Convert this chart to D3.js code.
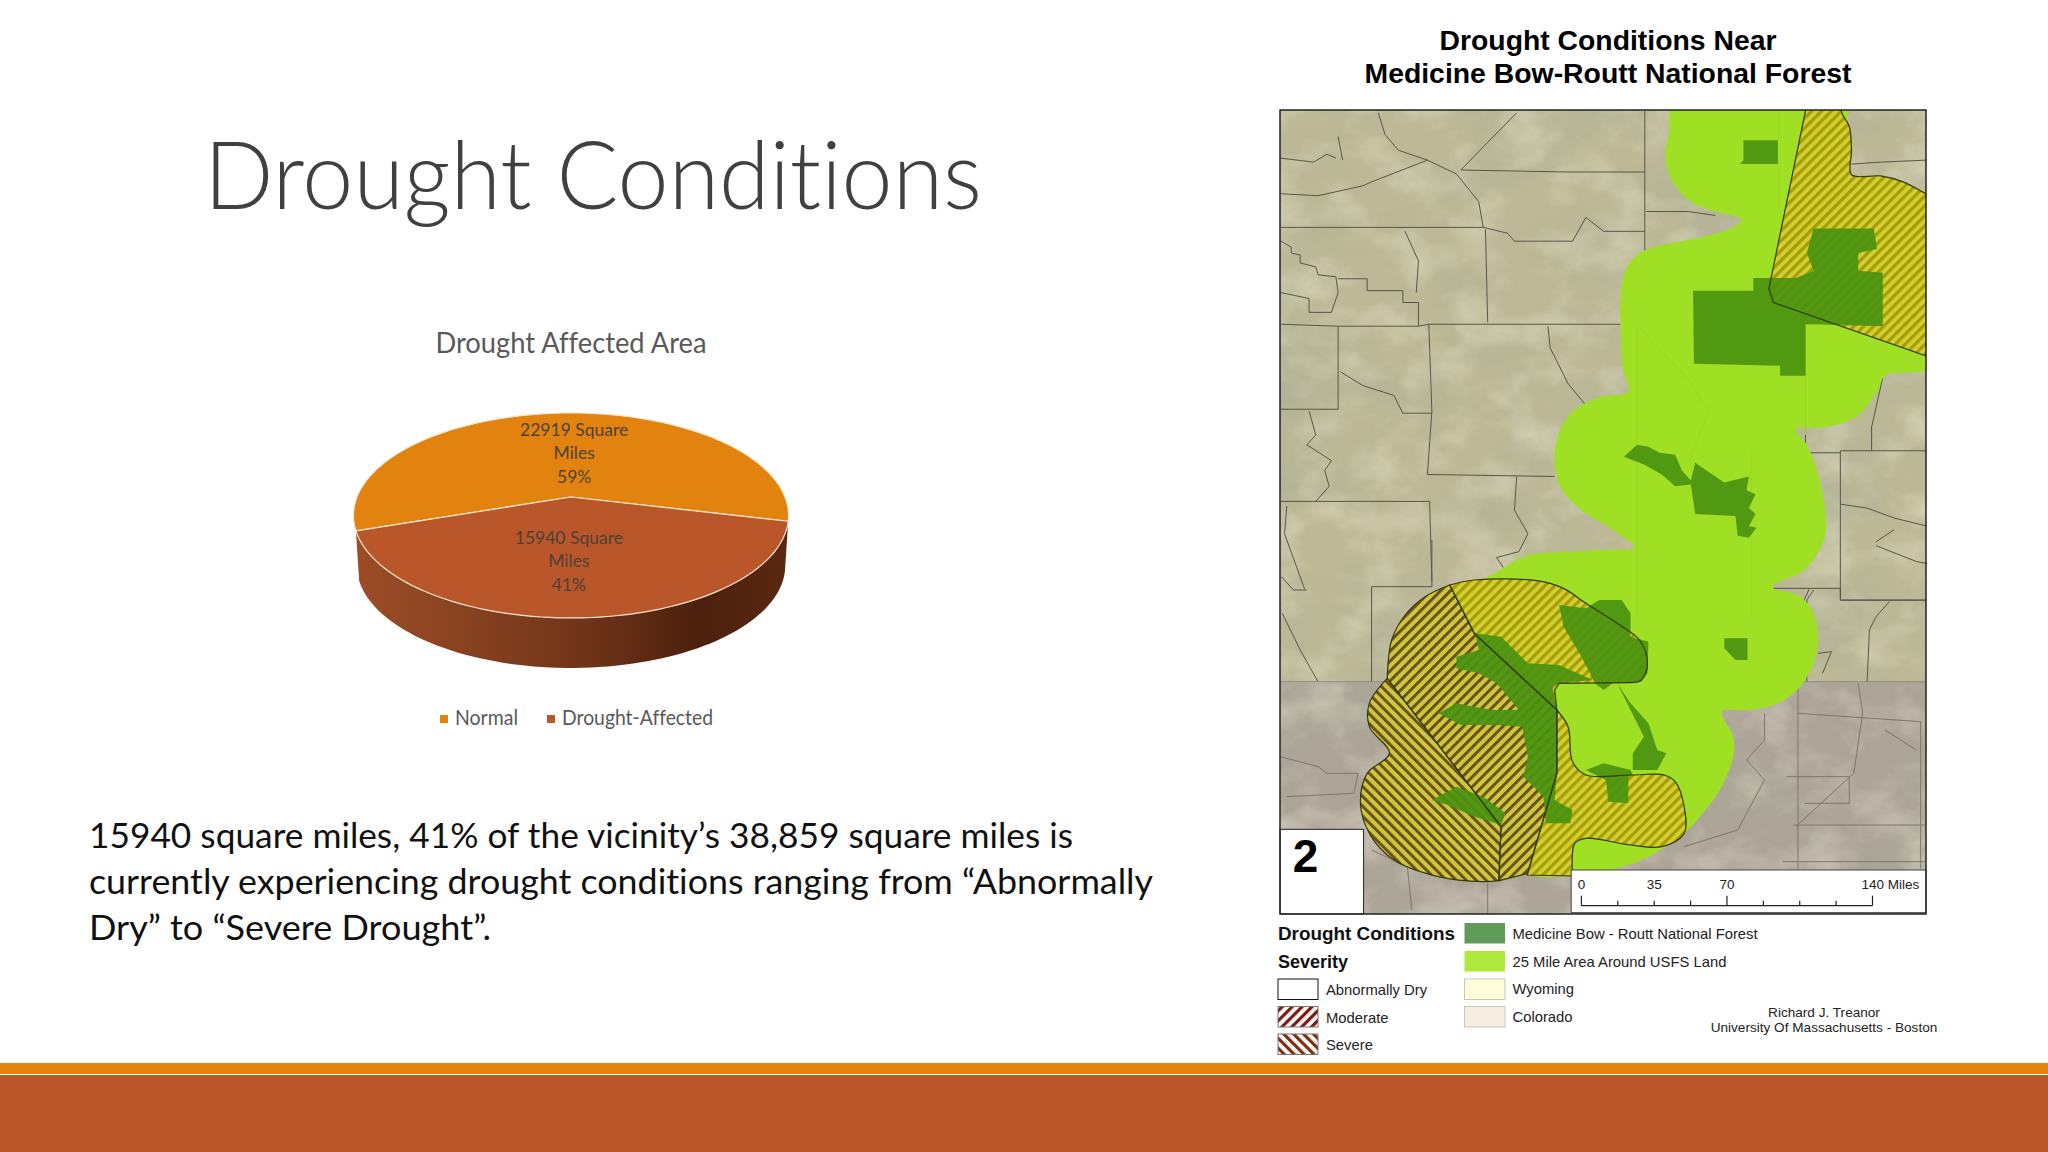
<!DOCTYPE html>
<html>
<head>
<meta charset="utf-8">
<title>Drought Conditions</title>
<script src="https://cdnjs.cloudflare.com/ajax/libs/d3/7.8.5/d3.min.js"></script>
<style>
html, body { margin: 0; padding: 0; background: #fff; }
svg { display: block; }
.calibri { font-family: Lato, "Noto Sans", sans-serif; font-variant-ligatures: none; }
.arial { font-family: "Liberation Sans", Arial, sans-serif; }
</style>
</head>
<body>
<svg id="slide" width="2048" height="1152"></svg>
<script>
// pie values
var pieCategories = ["Normal", "Drought-Affected"];
var pieValues = [22919, 15940];
var pieLabels = ["22919 Square|Miles|59%", "15940 Square|Miles|41%"];
var pieColors = ["#e2830f", "#b9562a"];

var bodyLines = [
	"15940 square miles, 41% of the vicinity\u2019s 38,859 square miles is",
	"currently experiencing drought conditions ranging from \u201cAbnormally",
	"Dry\u201d to \u201cSevere Drought\u201d."
];

// map shapes. north* = upper half, south* = lower half, they get different y scales
var bufferNorthWest = [[935,240],[915,340],[908,400],[925,460],[965,510],[1020,535],[1078,555],[1060,575],[990,600],[900,620],[850,640],[820,680],[808,740],[808,830],[812,930],[825,990],[760,1005],[700,1040],[668,1100],[660,1165],[672,1230],[720,1290],[790,1340],[840,1385],[800,1390],[700,1395],[600,1405],[540,1440]];
var bufferSouth = [[430,200],[400,500],[500,800],[600,1000],[700,1005],[800,985],[870,950],[950,880],[985,830],[1030,750],[1060,650],[1060,590],[1035,515],[1100,510],[1160,490],[1210,440],[1240,370],[1250,300],[1240,220],[1210,170],[1150,145]];
var bufferNorthEast = [[1150,1480],[1220,1440],[1265,1360],[1265,1280],[1245,1180],[1225,1125],[1200,1085],[1270,1080],[1340,1050],[1385,985],[1400,950],[1500,930],[1540,800],[1320,440],[1300,240]];

var forestNorth = [
	[[1083,355],[1160,355],[1160,415],[1075,415],[1083,405]],
	[[970,735],[1105,735],[1105,703],[1200,703],[1240,685],[1225,640],[1240,578],[1375,578],[1382,630],[1340,640],[1340,685],[1395,690],[1395,825],[1240,820],[1222,820],[1222,950],[1165,950],[1165,925],[972,920]],
	[[815,1155],[845,1125],[870,1130],[895,1145],[930,1150],[945,1190],[965,1215],[975,1170],[1000,1190],[1040,1220],[1095,1205],[1090,1240],[1110,1250],[1095,1285],[1110,1300],[1095,1330],[1112,1335],[1095,1360],[1070,1355],[1065,1305],[975,1300],[965,1225],[930,1230],[900,1200],[860,1175]]
];
var forestSouth = [
	[[1040,295],[1092,295],[1092,360],[1065,360],[1040,325]],
	[[670,195],[730,205],[760,180],[810,180],[830,220],[830,290],[870,305],[868,400],[850,425],[790,430],[770,450],[750,430],[745,415],[720,350],[680,260]],
	[[482,280],[540,290],[600,370],[670,375],[745,420],[670,430],[655,440],[665,510],[665,700],[660,780],[700,810],[695,850],[640,850],[635,770],[590,710],[600,650],[580,510],[530,430],[490,400],[440,385],[440,350],[490,330]],
	[[400,520],[440,490],[520,510],[580,510],[590,560],[530,555],[450,555]],
	[[385,780],[440,740],[500,770],[550,820],[540,855],[480,830],[420,795]],
	[[800,430],[830,490],[870,550],[890,630],[910,640],[890,690],[835,690],[835,640],[860,590]],
	[[730,690],[770,670],[830,690],[835,705],[825,710],[825,790],[780,785],[775,720]]
];

// drought areas: curved outer edge + straight inner edge
var dryNorthOuter = [[1300,240],[1303,285],[1320,320],[1325,380],[1325,442],[1390,445],[1440,460],[1492,490],[1540,520]];
var dryNorthInner = [[1540,919],[1150,765],[1140,730],[1222,280],[1222,240]];
var dryTopOuter = [[425,135],[480,120],[620,122],[680,145],[730,190],[800,250],[850,300],[868,370],[855,420],[830,428]];
var dryTopInner = [[670,430],[660,450],[665,510],[480,280]];
var dryBottomOuter = [[665,510],[690,560],[700,665],[730,705],[830,705],[905,705],[930,725],[950,800],[950,880],[900,920],[830,915],[730,895],[705,910],[700,1008]];
var dryBottomInner = [[598,1005],[630,860],[665,700]];
var moderateOuter = [[425,135],[370,170],[325,225],[295,300],[285,415]];
var moderateInner = [[540,860],[535,1022],[600,1000],[630,860],[665,700],[665,510],[480,280]];
var severeOuter = [[285,415],[245,490],[245,560],[290,640],[240,700],[225,790],[245,880],[300,960],[400,1010],[500,1025],[535,1022]];
var severeInner = [[540,860]];

var linesNorth = [
	[[265,285],[280,340],[310,380],[375,405],[440,440],[490,510],[500,575]],
	[[575,285],[545,320],[510,360],[450,430],[690,435],[862,435]],
	[[862,280],[862,820]],
	[[47,575],[500,575],[555,590],[570,610],[700,610],[730,550],[770,585],[862,585]],
	[[505,580],[510,815]],
	[[47,400],[120,410],[150,390],[170,400]],
	[[175,345],[185,405]],
	[[47,490],[130,495],[230,470],[250,460],[375,405]],
	[[325,585],[355,660],[350,740]],
	[[175,705],[240,705],[240,735],[320,735],[320,765],[355,765],[355,825]],
	[[47,610],[70,625],[70,640],[90,645],[90,665],[125,675],[130,695],[170,700],[175,740],[160,790],[110,790],[110,755],[47,740]],
	[[47,820],[175,825],[175,1035],[47,1035]],
	[[175,825],[355,825],[378,820],[1000,820]],
	[[378,820],[385,1040],[375,1200],[660,1205]],
	[[645,825],[650,880],[690,970],[730,1025]],
	[[180,940],[230,975],[300,1000],[320,1045],[385,1045]],
	[[110,1040],[125,1100],[105,1125],[160,1165],[145,1190],[155,1230],[125,1268]],
	[[47,1268],[380,1268],[385,1470]],
	[[575,1205],[570,1290],[600,1350],[580,1395],[530,1410],[545,1435]],
	[[865,535],[960,535],[1020,545]],
	[[1300,1140],[1492,1140]],
	[[1300,1140],[1300,1518],[1492,1518]],
	[[1110,1145],[1300,1145]],
	[[1222,1080],[1222,1140]],
	[[1395,955],[1370,1080],[1370,1140]],
	[[1325,415],[1390,410],[1492,405]],
	[[1300,1275],[1360,1285],[1420,1310],[1492,1330]],
	[[1380,1370],[1420,1340]],
	[[1380,1380],[1470,1420],[1492,1425]],
	[[60,1280],[55,1350],[100,1490]],
	[[1230,1490],[1210,1540]]
];
var linesSouth = [
	[[250,140],[385,140],[385,0]],
	[[250,140],[250,425]],
	[[48,110],[75,150],[105,150]],
	[[50,220],[90,330],[130,425]],
	[[1140,145],[1300,145],[1300,180],[1490,180]],
	[[1410,185],[1380,230],[1365,270],[1360,425]],
	[[1240,150],[1225,180],[1225,425]],
	[[1250,340],[1280,335],[1260,400]]
];
var linesColorado = [
	[[1130,520],[1130,600],[1090,660],[1130,720],[1070,870],[950,920]],
	[[1205,430],[1205,985]],
	[[1205,520],[1480,545],[1480,985]],
	[[1340,430],[1350,520],[1330,700],[1200,860]],
	[[1400,570],[1470,630]],
	[[1180,710],[1320,710],[1320,790],[1220,790]],
	[[1195,855],[1490,855]],
	[[1170,965],[1490,965]],
	[[250,930],[330,980],[340,1110]],
	[[510,1030],[510,1120]],
	[[150,700],[220,700],[210,760],[60,770]],
	[[45,650],[130,680],[150,700]]
];
// faint county lines showing through the green
var linesThrough = [[[845,820],[845,1560]], [[1162,280],[1162,540]], [[1222,820],[1222,1100]], [[1100,1145],[1100,1560]], [[850,830],[960,960],[1005,1040],[960,1170]]];

var scaleMiles = [0, 35, 70, 140];
var scaleTicks = [0, 17.5, 35, 52.5, 70, 87.5, 105, 122.5, 140];

var legendLeft = ["Abnormally Dry", "Moderate", "Severe"];
var legendRight = ["Medicine Bow - Routt National Forest", "25 Mile Area Around USFS Land", "Wyoming", "Colorado"];
var legendRightColors = ["#5f9c59", "#aee83c", "#fdfed8", "#f6ece2"];

var svg = d3.select("#slide");
var defs = svg.append("defs");

// slide background bands
svg.append("rect").attr("x", 0).attr("y", 1063).attr("width", 2048).attr("height", 11).attr("fill", "#e2830f");
svg.append("rect").attr("x", 0).attr("y", 1075).attr("width", 2048).attr("height", 77).attr("fill", "#b9562a");

svg.append("text").attr("class", "calibri")
	.attr("x", 204).attr("y", 209)
	.attr("font-size", 95).attr("font-weight", 300).attr("fill", "#404040")
	.attr("textLength", 778).attr("lengthAdjust", "spacingAndGlyphs")
	.text("Drought Conditions");

var bodyBaselines = [848, 894, 940];
var bodyWidths = [984, 1064, 402];
svg.selectAll("text.body").data(bodyLines).enter().append("text")
	.attr("class", "body calibri")
	.attr("x", 89).attr("y", (d, i) => bodyBaselines[i])
	.attr("font-size", 35).attr("fill", "#111")
	.attr("textLength", (d, i) => bodyWidths[i]).attr("lengthAdjust", "spacingAndGlyphs")
	.text(d => d);

// ---- 3D pie ----
var PIE_CX = 571, PIE_CY = 497, PIE_A = 214, PIE_B = 99.2, PIE_K = -0.18, PIE_DEPTH = 50;

// perspective of the pie's disc: angle from the top, clockwise, radius 0..1
function project(theta, r, drop, shrink) {
	var u = -Math.cos(theta) * r, v = Math.sin(theta) * r, w = 1 + PIE_K * u;
	return [PIE_CX + PIE_A * (shrink || 1) * v / w, PIE_CY + PIE_B * u / w + (drop || 0)];
}

var firstAngle = 251.2 * Math.PI / 180;
var slices = d3.pie().sort(null).startAngle(firstAngle).endAngle(firstAngle + 2 * Math.PI)(pieValues);
var line = d3.line();

function arcPoints(s, drop, shrink) {
	return d3.range(0, 81).map(i => project(s.startAngle + (s.endAngle - s.startAngle) * i / 80, 1, drop, shrink));
}

var sideGrad = defs.append("linearGradient").attr("id", "pieSide").attr("gradientUnits", "userSpaceOnUse")
	.attr("x1", PIE_CX - PIE_A).attr("x2", PIE_CX + PIE_A).attr("y1", 0).attr("y2", 0);
[[0, "#9c4d26"], [0.3, "#84401f"], [0.55, "#6e3318"], [0.8, "#4b200d"], [1, "#5a2810"]].forEach(d => {
	sideGrad.append("stop").attr("offset", d[0]).attr("stop-color", d[1]);
});

var pieGroup = svg.append("g");
var front = slices[1];
pieGroup.append("path")
	.attr("d", line(arcPoints(front, 0, 1).concat(arcPoints(front, PIE_DEPTH, 0.985).reverse())) + "Z")
	.attr("fill", "url(#pieSide)");

pieGroup.selectAll("path.slice").data(slices).enter().append("path")
	.attr("class", "slice")
	.attr("d", s => line([project(0, 0)].concat(arcPoints(s, 0, 1))) + "Z")
	.attr("fill", (s, i) => pieColors[i])
	.attr("stroke", "#f6e6cf").attr("stroke-width", 1.2);

var labelRadius = [0.42, 0.62], labelShift = [7, -9];
slices.forEach((s, i) => {
	var p = project((s.startAngle + s.endAngle) / 2, labelRadius[i]);
	pieLabels[i].split("|").forEach((t, j) => {
		pieGroup.append("text").attr("class", "calibri")
			.attr("x", p[0] + labelShift[i]).attr("y", p[1] + (j - 1) * 23.5 + 1)
			.attr("text-anchor", "middle").attr("font-size", 17.5).attr("fill", "#4d4238")
			.text(t);
	});
});

svg.append("text").attr("class", "calibri")
	.attr("x", 571).attr("y", 353).attr("text-anchor", "middle")
	.attr("font-size", 28).attr("fill", "#595959")
	.attr("textLength", 271).attr("lengthAdjust", "spacingAndGlyphs")
	.text("Drought Affected Area");

var pieLegendSquare = [440, 547], pieLegendText = [455, 562], pieLegendWidth = [63, 151];
pieCategories.forEach((c, i) => {
	svg.append("rect").attr("x", pieLegendSquare[i]).attr("y", 715).attr("width", 8).attr("height", 8).attr("fill", pieColors[i]);
	svg.append("text").attr("class", "calibri")
		.attr("x", pieLegendText[i]).attr("y", 725)
		.attr("font-size", 21).attr("fill", "#595959")
		.attr("textLength", pieLegendWidth[i]).attr("lengthAdjust", "spacingAndGlyphs")
		.text(c);
});

// ---- map ----
var xMap = d3.scaleLinear().domain([0, 1568]).range([1260, 1960]);
var yNorth = d3.scaleLinear().domain([0, 1568]).range([0, 620]);
var ySouth = d3.scaleLinear().domain([0, 1200]).range([540, 940]);
var toNorth = p => [xMap(p[0]), yNorth(p[1])];
var toSouth = p => [xMap(p[0]), ySouth(p[1])];

var MAP_L = 1280, MAP_T = 110, MAP_R = 1926, MAP_B = 914, STATE_Y = ySouth(425);

defs.append("clipPath").attr("id", "mapClip").append("rect")
	.attr("x", MAP_L).attr("y", MAP_T).attr("width", MAP_R - MAP_L).attr("height", MAP_B - MAP_T);

// terrain texture, colour only
function terrainFilter(id, freq, seed, matrix) {
	var f = defs.append("filter").attr("id", id)
		.attr("filterUnits", "userSpaceOnUse")
		.attr("x", MAP_L).attr("y", MAP_T).attr("width", MAP_R - MAP_L).attr("height", MAP_B - MAP_T);
	f.append("feTurbulence").attr("type", "fractalNoise").attr("baseFrequency", freq).attr("numOctaves", 5).attr("seed", seed);
	f.append("feColorMatrix").attr("type", "matrix").attr("values", matrix);
}
terrainFilter("terrainDark", "0.009 0.012", 11, "0 0 0 0 0.38  0 0 0 0 0.40  0 0 0 0 0.30  2.0 0 0 0 -0.85");
terrainFilter("terrainLight", "0.02 0.026", 4, "0 0 0 0 0.90  0 0 0 0 0.88  0 0 0 0 0.72  0 2.0 0 0 -0.85");

var map = svg.append("g").attr("clip-path", "url(#mapClip)");
map.append("rect").attr("x", MAP_L).attr("y", MAP_T).attr("width", MAP_R - MAP_L).attr("height", STATE_Y - MAP_T).attr("fill", "#bdb997");
map.append("rect").attr("x", MAP_L).attr("y", STATE_Y).attr("width", MAP_R - MAP_L).attr("height", MAP_B - STATE_Y).attr("fill", "#ada498");
map.append("rect").attr("x", MAP_L).attr("y", MAP_T).attr("width", MAP_R - MAP_L).attr("height", MAP_B - MAP_T).attr("filter", "url(#terrainDark)").attr("opacity", 0.5);
map.append("rect").attr("x", MAP_L).attr("y", MAP_T).attr("width", MAP_R - MAP_L).attr("height", MAP_B - MAP_T).attr("filter", "url(#terrainLight)").attr("opacity", 0.4);

function drawLines(data, toPage, color) {
	map.append("g").selectAll("path").data(data).enter().append("path")
		.attr("d", d => line(d.map(toPage)))
		.attr("fill", "none").attr("stroke", color).attr("stroke-width", 1);
}
drawLines(linesNorth, toNorth, "#55574a");
drawLines(linesSouth, toSouth, "#55574a");
drawLines(linesColorado, toSouth, "#7f766c");
map.append("line").attr("x1", MAP_L).attr("x2", MAP_R).attr("y1", STATE_Y).attr("y2", STATE_Y).attr("stroke", "#8d8c78").attr("stroke-width", 1);

var smooth = d3.line().curve(d3.curveCatmullRomClosed.alpha(0.5));
var bufferPoints = bufferNorthWest.map(toNorth).concat(bufferSouth.map(toSouth), bufferNorthEast.map(toNorth));
map.append("path").attr("d", smooth(bufferPoints)).attr("fill", "#a0e024");
drawLines(linesThrough, toNorth, "#97d823");

function stripes(id, angle, bg, ink, inkWidth) {
	var p = defs.append("pattern").attr("id", id).attr("patternUnits", "userSpaceOnUse")
		.attr("width", 7).attr("height", 7).attr("patternTransform", "rotate(" + angle + ")");
	p.append("rect").attr("width", 7).attr("height", 7).attr("fill", bg);
	p.append("rect").attr("width", inkWidth).attr("height", 7).attr("fill", ink);
}
stripes("hatchDry", 45, "#cfd12c", "#a89a0c", 3.2);
stripes("hatchModerate", 45, "#c9c83e", "#6a4a12", 2.8);
stripes("hatchSevere", -45, "#c9c83e", "#6a4a12", 2.8);

var arcEdge = d3.line().curve(d3.curveCatmullRom.alpha(0.5));
function regionPath(outer, inner, toPage) {
	return arcEdge(outer.map(toPage)) + line(inner.map(toPage)).replace("M", "L") + "Z";
}
var regions = [
	{ outer: dryNorthOuter, inner: dryNorthInner, toPage: toNorth, fill: "url(#hatchDry)" },
	{ outer: dryBottomOuter, inner: dryBottomInner, toPage: toSouth, fill: "url(#hatchDry)" },
	{ outer: dryTopOuter, inner: dryTopInner, toPage: toSouth, fill: "url(#hatchDry)" },
	{ outer: severeOuter, inner: severeInner, toPage: toSouth, fill: "url(#hatchSevere)" },
	{ outer: moderateOuter, inner: moderateInner, toPage: toSouth, fill: "url(#hatchModerate)" }
];
map.append("g").selectAll("path").data(regions).enter().append("path")
	.attr("d", r => regionPath(r.outer, r.inner, r.toPage)).attr("fill", r => r.fill);

map.append("g").selectAll("path").data(forestNorth.map(d => d.map(toNorth)).concat(forestSouth.map(d => d.map(toSouth))))
	.enter().append("path")
	.attr("d", d => line(d) + "Z").attr("fill", "#4a9210").attr("fill-opacity", 0.92);

map.append("g").selectAll("path").data(regions).enter().append("path")
	.attr("d", r => regionPath(r.outer, r.inner, r.toPage))
	.attr("fill", "none").attr("stroke", "#34380f").attr("stroke-width", 1.2);

// white boxes on the map
var box2 = [xMap(45), ySouth(868), xMap(232), MAP_B];
svg.append("rect").attr("x", box2[0]).attr("y", box2[1]).attr("width", box2[2] - box2[0]).attr("height", box2[3] - box2[1])
	.attr("fill", "#fff").attr("stroke", "#222");
svg.append("text").attr("class", "arial")
	.attr("x", xMap(102)).attr("y", ySouth(995)).attr("text-anchor", "middle")
	.attr("font-size", 46).attr("font-weight", 700).attr("fill", "#000").text("2");

var boxScale = [xMap(697), ySouth(990), MAP_R, ySouth(1118)];
svg.append("rect").attr("x", boxScale[0]).attr("y", boxScale[1]).attr("width", boxScale[2] - boxScale[0]).attr("height", boxScale[3] - boxScale[1])
	.attr("fill", "#fff").attr("stroke", "#444");

svg.append("rect").attr("x", MAP_L).attr("y", MAP_T).attr("width", MAP_R - MAP_L).attr("height", MAP_B - MAP_T)
	.attr("fill", "none").attr("stroke", "#222").attr("stroke-width", 1.5);

var miles = d3.scaleLinear().domain([0, 140]).range([xMap(720), xMap(1372)]);
var barY = ySouth(1097);
svg.append("line").attr("x1", miles(0)).attr("x2", miles(140)).attr("y1", barY).attr("y2", barY).attr("stroke", "#222").attr("stroke-width", 1.2);
svg.append("g").selectAll("line").data(scaleTicks).enter().append("line")
	.attr("x1", d => miles(d)).attr("x2", d => miles(d))
	.attr("y1", barY).attr("y2", d => barY - (d % 70 === 0 ? 10 : 5))
	.attr("stroke", "#222").attr("stroke-width", 1.2);
svg.append("g").selectAll("text").data(scaleMiles).enter().append("text")
	.attr("class", "arial")
	.attr("x", d => d === 140 ? miles(d) - 11 : miles(d)).attr("y", ySouth(1047))
	.attr("text-anchor", d => d === 140 ? "start" : "middle")
	.attr("font-size", 13.5).attr("fill", "#222")
	.text(d => d === 140 ? "140 Miles" : d);

// map title
var mapTitle = ["Drought Conditions Near", "Medicine Bow-Routt National Forest"];
var mapTitleY = [49.5, 83], mapTitleW = [337, 487];
svg.selectAll("text.mapTitle").data(mapTitle).enter().append("text")
	.attr("class", "mapTitle arial")
	.attr("x", 1608).attr("y", (d, i) => mapTitleY[i]).attr("text-anchor", "middle")
	.attr("font-size", 27).attr("font-weight", 700).attr("fill", "#000")
	.attr("textLength", (d, i) => mapTitleW[i]).attr("lengthAdjust", "spacingAndGlyphs")
	.text(d => d);

// map legend
svg.append("text").attr("class", "arial").attr("x", 1278).attr("y", 940)
	.attr("font-size", 18).attr("font-weight", 700).attr("fill", "#111")
	.attr("textLength", 177).attr("lengthAdjust", "spacingAndGlyphs").text("Drought Conditions");
svg.append("text").attr("class", "arial").attr("x", 1278).attr("y", 968)
	.attr("font-size", 18).attr("font-weight", 700).attr("fill", "#111").text("Severity");

stripes("swatchModerate", 45, "#fff", "#7d1a12", 3.2);
stripes("swatchSevere", -45, "#fff", "#7d3010", 3.2);
var swatchFill = ["#fff", "url(#swatchModerate)", "url(#swatchSevere)"];
var swatchStroke = ["#111", "#777", "#777"];
var leftY = [979, 1006.5, 1034], leftText = [995, 1023, 1050];
legendLeft.forEach((t, i) => {
	svg.append("rect").attr("x", 1278).attr("y", leftY[i]).attr("width", 40).attr("height", 20.5)
		.attr("fill", swatchFill[i]).attr("stroke", swatchStroke[i]);
	svg.append("text").attr("class", "arial").attr("x", 1326).attr("y", leftText[i])
		.attr("font-size", 14.8).attr("fill", "#222").text(t);
});

var rightY = [923, 951, 979, 1006.5], rightText = [939, 967, 994, 1022];
legendRight.forEach((t, i) => {
	svg.append("rect").attr("x", 1464.5).attr("y", rightY[i]).attr("width", 40.5).attr("height", 20.5)
		.attr("fill", legendRightColors[i]).attr("stroke", i > 1 ? "#c9c7b6" : "none");
	svg.append("text").attr("class", "arial").attr("x", 1512.5).attr("y", rightText[i])
		.attr("font-size", 14.8).attr("fill", "#222").text(t);
});

var credit = ["Richard J. Treanor", "University Of Massachusetts - Boston"];
var creditY = [1017, 1032];
svg.selectAll("text.credit").data(credit).enter().append("text")
	.attr("class", "credit arial")
	.attr("x", 1824).attr("y", (d, i) => creditY[i]).attr("text-anchor", "middle")
	.attr("font-size", 13.6).attr("fill", "#222")
	.text(d => d);
</script>
</body>
</html>
